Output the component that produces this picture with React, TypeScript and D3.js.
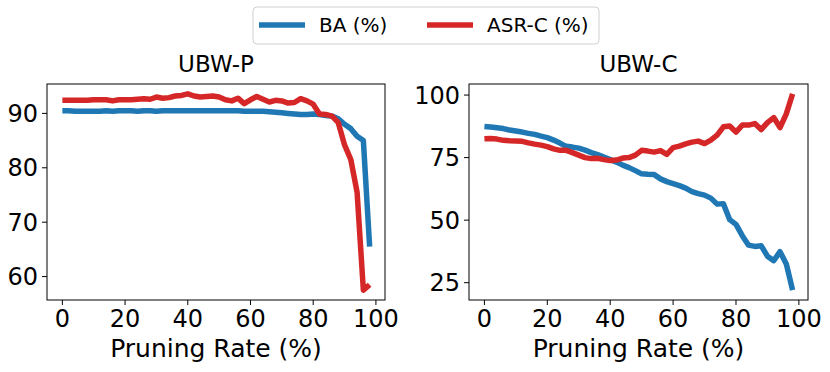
import React from "react";
import * as d3 from "d3";

const pruningRates: number[] = Array.from({ length: 50 }, (_, i) => i * 2);

const baLeft: number[] = [
  90.5, 90.5, 90.4, 90.4, 90.4, 90.4, 90.4, 90.5, 90.4, 90.5, 90.5, 90.5,
  90.4, 90.5, 90.5, 90.4, 90.5, 90.5, 90.5, 90.5, 90.5, 90.5, 90.5, 90.5,
  90.5, 90.5, 90.5, 90.5, 90.5, 90.4, 90.4, 90.4, 90.4, 90.3, 90.2, 90.1,
  90.0, 89.9, 89.8, 89.8, 89.9, 89.8, 89.6, 89.5, 89.0, 88.0, 87.2, 85.8, 85.0, 65.5,
];
const asrLeft: number[] = [
  92.4, 92.4, 92.4, 92.4, 92.4, 92.5, 92.5, 92.5, 92.3, 92.5, 92.5, 92.5,
  92.6, 92.7, 92.6, 93.0, 92.8, 92.9, 93.2, 93.3, 93.6, 93.2, 93.0, 93.1,
  93.2, 93.0, 92.5, 92.3, 92.8, 91.8, 92.5, 93.1, 92.6, 92.1, 92.4, 92.3,
  91.9, 92.0, 92.7, 92.3, 91.7, 89.9, 89.8, 89.5, 88.3, 84.2, 81.5, 75.5, 57.5, 58.5,
];
const baRight: number[] = [
  87.4, 87.2, 86.9, 86.6, 86.0, 85.6, 85.2, 84.7, 84.3, 83.6, 83.0, 82.0,
  80.8, 79.5, 79.2, 78.8, 78.0, 77.0, 76.2, 75.2, 74.2, 73.2, 72.0, 71.0,
  69.8, 68.5, 68.3, 68.2, 66.5, 65.4, 64.6, 63.8, 62.8, 61.4, 60.6, 60.0,
  58.8, 56.4, 56.6, 50.2, 48.3, 43.8, 40.0, 39.5, 39.8, 35.6, 33.8, 37.4, 32.5, 22.0,
];
const asrRight: number[] = [
  82.5, 82.6, 82.4, 81.9, 81.7, 81.6, 81.5, 80.9, 80.4, 80.0, 79.4, 78.5,
  77.9, 77.9, 77.0, 76.0, 75.0, 74.6, 74.7, 74.2, 73.8, 74.0, 74.8, 75.0,
  76.0, 77.9, 77.6, 77.2, 77.8, 76.3, 79.0, 79.6, 80.5, 81.2, 81.6, 80.6,
  82.0, 84.0, 87.3, 87.6, 85.2, 88.0, 88.0, 88.6, 86.2, 89.0, 91.0, 87.0, 92.5, 100.5,
];

const xTicks: number[] = [0, 20, 40, 60, 80, 100];
const yTicksLeft: number[] = [60, 70, 80, 90];
const yTicksRight: number[] = [25, 50, 75, 100];
const titles: string[] = ["UBW-P", "UBW-C"];
const seriesNames: string[] = ["BA (%)", "ASR-C (%)"];
const colors: string[] = ["#1f77b4", "#d62728"];
const xLabel = "Pruning Rate (%)";

const FONT = "DejaVu Sans, sans-serif";

type PanelProps = {
  left: number;
  right: number;
  top: number;
  bottom: number;
  title: string;
  ba: number[];
  asr: number[];
  yTicks: number[];
};

function Panel({ left, right, top, bottom, title, ba, asr, yTicks }: PanelProps) {
  const xExt = d3.extent(pruningRates) as [number, number];
  const xPad = (xExt[1] - xExt[0]) * 0.05;
  const x = d3.scaleLinear().domain([xExt[0] - xPad, xExt[1] + xPad]).range([left, right]);
  const all = ba.concat(asr);
  const yExt = d3.extent(all) as [number, number];
  const yPad = (yExt[1] - yExt[0]) * 0.05;
  const y = d3.scaleLinear().domain([yExt[0] - yPad, yExt[1] + yPad]).range([bottom, top]);
  const line = d3
    .line<number>()
    .x((_, i) => x(pruningRates[i]))
    .y((d) => y(d));
  const clipId = "clip-" + title;
  return (
    <g>
      <defs>
        <clipPath id={clipId}>
          <rect x={left} y={top} width={right - left} height={bottom - top} />
        </clipPath>
      </defs>
      <g clipPath={`url(#${clipId})`}>
        <path d={line(ba) || ""} fill="none" stroke={colors[0]} strokeWidth={5.5} strokeLinejoin="round" />
        <path d={line(asr) || ""} fill="none" stroke={colors[1]} strokeWidth={5.5} strokeLinejoin="round" />
      </g>
      <rect x={left} y={top} width={right - left} height={bottom - top} fill="none" stroke="#000" strokeWidth={1} />
      {xTicks.map((t) => (
        <g key={"x" + t}>
          <line x1={x(t)} x2={x(t)} y1={bottom} y2={bottom + 5} stroke="#000" strokeWidth={1} />
          <text x={x(t)} y={bottom + 27} textAnchor="middle" fontSize={24} fontFamily={FONT} fill="#000">
            {t}
          </text>
        </g>
      ))}
      {yTicks.map((t) => (
        <g key={"y" + t}>
          <line x1={left - 5} x2={left} y1={y(t)} y2={y(t)} stroke="#000" strokeWidth={1} />
          <text x={left - 9} y={y(t)} dy="0.36em" textAnchor="end" fontSize={24} fontFamily={FONT} fill="#000">
            {t}
          </text>
        </g>
      ))}
      <text x={(left + right) / 2} y={top - 12} textAnchor="middle" fontSize={23} fontFamily={FONT} fill="#000">
        {title}
      </text>
      <text x={(left + right) / 2} y={bottom + 57} textAnchor="middle" fontSize={25} fontFamily={FONT} fill="#000">
        {xLabel}
      </text>
    </g>
  );
}

export default function App() {
  return (
    <svg width={830} height={372} style={{ position: "absolute", left: 0, top: 0, background: "#fff" }}>
      <rect x={0} y={0} width={830} height={372} fill="#fff" />
      <Panel left={47} right={385} top={84} bottom={300} title={titles[0]} ba={baLeft} asr={asrLeft} yTicks={yTicksLeft} />
      <Panel left={469} right={808} top={84} bottom={300} title={titles[1]} ba={baRight} asr={asrRight} yTicks={yTicksRight} />
      <g>
        <rect x={253} y={7} width={346} height={37} rx={4} fill="#fff" stroke="#d0d0d0" strokeWidth={1} />
        <line x1={259} x2={305} y1={25} y2={25} stroke={colors[0]} strokeWidth={5.5} />
        <text x={319} y={25} dy="0.36em" fontSize={20} fontFamily={FONT} fill="#000">
          {seriesNames[0]}
        </text>
        <line x1={427} x2={473} y1={25} y2={25} stroke={colors[1]} strokeWidth={5.5} />
        <text x={487} y={25} dy="0.36em" fontSize={20} fontFamily={FONT} fill="#000">
          {seriesNames[1]}
        </text>
      </g>
    </svg>
  );
}
